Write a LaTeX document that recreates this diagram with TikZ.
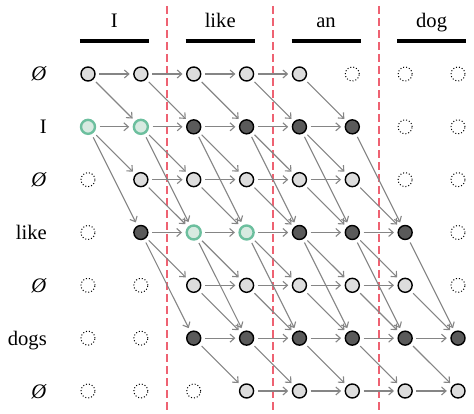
\documentclass[tikz,border=0pt]{standalone}
\usepackage{fontspec}
\setmainfont{Liberation Serif}
\usetikzlibrary{arrows.meta}
\definecolor{lightfill}{HTML}{DDDDDD}
\definecolor{darkfill}{HTML}{5A5A5A}
\definecolor{greenline}{HTML}{6CBF9E}
\definecolor{greenfill}{HTML}{D7EAE1}
\definecolor{edgegray}{HTML}{858585}
\definecolor{sepred}{HTML}{EE6272}
\begin{document}
\begin{tikzpicture}[x=1pt,y=-1pt,
  basecirc/.style={circle,minimum size=14pt,inner sep=0pt},
  stE/.style={basecirc,draw,dotted,line width=1pt},
  stL/.style={basecirc,draw,fill=lightfill,line width=1.4pt},
  stD/.style={basecirc,draw,fill=darkfill,line width=1.4pt},
  stG/.style={basecirc,draw=greenline,fill=greenfill,line width=2.4pt},
  edgeline/.style={draw=edgegray,line width=1.1pt,-{Straight Barb[length=4.5pt,width=8pt]},shorten <=3.5pt,shorten >=3.5pt},
  sepline/.style={draw=sepred,line width=1.8pt,dash pattern=on 8pt off 4pt},
  word/.style={font=\fontsize{20.6}{24}\selectfont,inner sep=0pt},
  barline/.style={line width=3.4pt}]
\useasboundingbox (0,0) rectangle (474,414);
% separators
\draw[sepline] (167.3,6) -- (167.3,410);
\draw[sepline] (273,6) -- (273,410);
\draw[sepline] (378.7,6) -- (378.7,410);
% headers
\node[word,anchor=base] (hI) at (114.4,28) {I};
\node[word,anchor=base] (hlike) at (220.2,28) {like};
\node[word,anchor=base] (han) at (326,28) {an};
\node[word,anchor=base] (hdog) at (431.6,28) {dog};
\draw[barline] (79.9,41) -- (148.9,41);
\draw[barline] (185.7,41) -- (254.7,41);
\draw[barline] (291.5,41) -- (360.5,41);
\draw[barline] (397.1,41) -- (466.1,41);
% row labels
\node[word,anchor=base east] (r0) at (47,81) {\textit{Ø}};
\node[word,anchor=base east] (r1) at (47,133.8) {I};
\node[word,anchor=base east] (r2) at (47,186.7) {\textit{Ø}};
\node[word,anchor=base east] (r3) at (47,239.5) {like};
\node[word,anchor=base east] (r4) at (47,292.3) {\textit{Ø}};
\node[word,anchor=base east] (r5) at (47,345.2) {dogs};
\node[word,anchor=base east] (r6) at (47,398) {\textit{Ø}};
% lattice nodes
\foreach \r in {0,...,6}{
  \foreach \c in {0,...,7}{
    \pgfmathtruncatemacro\okv{(\r>=max(0,2*\c-9))&&(\r<=min(2*\c+1,6))}
    \pgfmathtruncatemacro\isgreen{((\r==1)&&(\c<2))||((\r==3)&&(\c>1)&&(\c<4))}
    \pgfmathtruncatemacro\isodd{mod(\r,2)}
    \ifnum\okv=0
      \node[stE] (n\r-\c) at ({88+52.86*\c},{74+52.83*\r}) {};
    \else\ifnum\isgreen=1
      \node[stG] (n\r-\c) at ({88+52.86*\c},{74+52.83*\r}) {};
    \else\ifnum\isodd=1
      \node[stD] (n\r-\c) at ({88+52.86*\c},{74+52.83*\r}) {};
    \else
      \node[stL] (n\r-\c) at ({88+52.86*\c},{74+52.83*\r}) {};
    \fi\fi\fi
  }
}
% transitions
\foreach \r in {0,...,6}{
  \foreach \c in {0,...,6}{
    \pgfmathtruncatemacro\nxc{\c+1}
    \pgfmathtruncatemacro\srcok{(\r>=max(0,2*\c-9))&&(\r<=min(2*\c+1,6))}
    \ifnum\srcok=1
      \pgfmathtruncatemacro\tgtok{(\r>=max(0,2*\nxc-9))&&(\r<=min(2*\nxc+1,6))}
      \ifnum\tgtok=1 \draw[edgeline] (n\r-\c) -- (n\r-\nxc); \fi
      \pgfmathtruncatemacro\tr{\r+1}
      \pgfmathtruncatemacro\tgtok{(\tr<=6)&&(\tr>=max(0,2*\nxc-9))&&(\tr<=min(2*\nxc+1,6))}
      \ifnum\tgtok=1 \draw[edgeline] (n\r-\c) -- (n\tr-\nxc); \fi
      \pgfmathtruncatemacro\tr{\r+2}
      \pgfmathtruncatemacro\tgtok{(mod(\r,2)==1)&&(\tr<=5)&&(\tr>=max(0,2*\nxc-9))&&(\tr<=min(2*\nxc+1,6))}
      \ifnum\tgtok=1 \draw[edgeline] (n\r-\c) -- (n\tr-\nxc); \fi
    \fi
  }
}
\end{tikzpicture}
\end{document}
